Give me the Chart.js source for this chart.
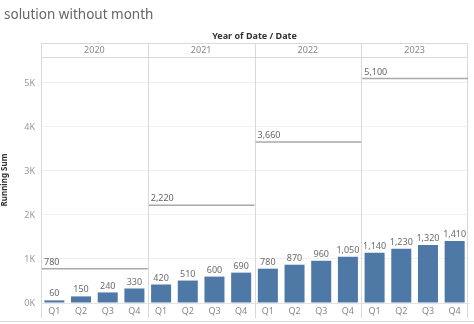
<!DOCTYPE html>
<html lang="en">
<head>
  <meta charset="UTF-8">
  <title>solution without month</title>
  <script src="https://cdn.jsdelivr.net/npm/chart.js"></script>
  <style>
    body { margin: 0; background: #fff; }
    .wrap { position: relative; width: 474px; height: 324px; }
    .title {
      position: absolute; left: 4px; top: 5px;
      font: 13.5px "Noto Sans", sans-serif; color: #666;
    }
    canvas { position: absolute; left: 0; top: 0; }
  </style>
</head>
<body>
  <div class="wrap">
    <canvas id="sumChart" width="474" height="324"></canvas>
    <div class="title">solution without month</div>
  </div>
  <script>
    const years = ['2020', '2021', '2022', '2023'];
    const quarters = ['Q1', 'Q2', 'Q3', 'Q4'];
    const runningSum = [60, 150, 240, 330, 420, 510, 600, 690, 780, 870, 960, 1050, 1140, 1230, 1320, 1410];
    const yearTotals = [780, 2220, 3660, 5100];
    const yTicks = [0, 1000, 2000, 3000, 4000, 5000];

    const labels = years.flatMap(() => quarters);
    const fmt = v => v.toLocaleString('en-US');
    const FONT = '"Noto Sans", sans-serif';

    // value labels, year header, panel dividers and per-year reference lines
    const panelPlugin = {
      id: 'panels',
      afterDatasetsDraw(chart) {
        const { ctx, chartArea: a, scales } = chart;
        const yScale = scales.y;
        const step = (a.right - a.left) / labels.length;
        const perYear = quarters.length;
        ctx.save();

        // bar values
        ctx.fillStyle = '#6b6b6b';
        ctx.font = '9px ' + FONT;
        ctx.textAlign = 'center';
        ctx.textBaseline = 'bottom';
        chart.getDatasetMeta(0).data.forEach((bar, i) => {
          ctx.fillText(fmt(runningSum[i]), bar.x, bar.y - 2);
        });

        // header rows
        const headTop = 43;
        ctx.strokeStyle = '#d9d9d9';
        ctx.lineWidth = 1;
        ctx.beginPath();
        ctx.moveTo(a.left, headTop + 0.5); ctx.lineTo(a.right, headTop + 0.5);
        ctx.moveTo(a.left, a.top + 0.5); ctx.lineTo(a.right, a.top + 0.5);
        ctx.moveTo(0, 321.5); ctx.lineTo(474, 321.5);
        ctx.stroke();

        ctx.fillStyle = '#333';
        ctx.font = 'bold 9px ' + FONT;
        ctx.textBaseline = 'middle';
        ctx.fillText('Year of Date / Date', (a.left + a.right) / 2, 36);

        years.forEach((yr, i) => {
          const left = a.left + i * perYear * step;
          const right = left + perYear * step;

          ctx.fillStyle = '#888';
          ctx.font = '9px ' + FONT;
          ctx.textAlign = 'center';
          ctx.textBaseline = 'middle';
          ctx.fillText(yr, (left + right) / 2, 50);

          // divider
          ctx.strokeStyle = '#d9d9d9';
          ctx.lineWidth = 1;
          ctx.beginPath();
          ctx.moveTo(Math.round(left) + 0.5, headTop);
          ctx.lineTo(Math.round(left) + 0.5, 318);
          if (i === years.length - 1) {
            ctx.moveTo(Math.round(right) - 0.5, headTop);
            ctx.lineTo(Math.round(right) - 0.5, 318);
          }
          ctx.stroke();

          // reference line for the year total
          const ry = yScale.getPixelForValue(yearTotals[i]);
          ctx.strokeStyle = '#a9a9a9';
          ctx.lineWidth = 1.5;
          ctx.beginPath();
          ctx.moveTo(left + 1, ry);
          ctx.lineTo(right, ry);
          ctx.stroke();

          ctx.fillStyle = '#666';
          ctx.font = '9px ' + FONT;
          ctx.textAlign = 'left';
          ctx.textBaseline = 'bottom';
          ctx.fillText(fmt(yearTotals[i]), left + 3, ry - 2);
        });
        ctx.restore();
      }
    };

    new Chart(document.getElementById('sumChart'), {
      type: 'bar',
      data: {
        labels: labels,
        datasets: [{
          data: runningSum,
          backgroundColor: '#4e79a7',
          categoryPercentage: 1,
          barPercentage: 0.75
        }]
      },
      options: {
        responsive: false,
        animation: false,
        layout: { padding: { top: 57, right: 6, left: 0, bottom: 0 } },
        plugins: { legend: { display: false }, tooltip: { enabled: false } },
        scales: {
          x: {
            grid: { display: false, drawTicks: false },
            border: { color: '#e3e3e3' },
            ticks: { color: '#888', font: { family: FONT, size: 9 }, padding: 3, maxRotation: 0, autoSkip: false },
            afterFit(scale) { scale.height = 21; }
          },
          y: {
            min: 0,
            max: 5590,
            grid: { color: '#f0f0f0', drawTicks: false },
            border: { display: false },
            afterBuildTicks(scale) { scale.ticks = yTicks.map(v => ({ value: v })); },
            ticks: {
              color: '#999',
              padding: 6,
              font: { family: FONT, size: 9 },
              callback: v => (v / 1000) + 'K'
            },
            title: {
              display: true,
              text: 'Running Sum',
              color: '#333',
              padding: { top: 0, bottom: 4 },
              font: { family: FONT, size: 8, weight: 'bold' }
            },
            afterFit(scale) { scale.width = 41; }
          }
        }
      },
      plugins: [panelPlugin]
    });
  </script>
</body>
</html>
